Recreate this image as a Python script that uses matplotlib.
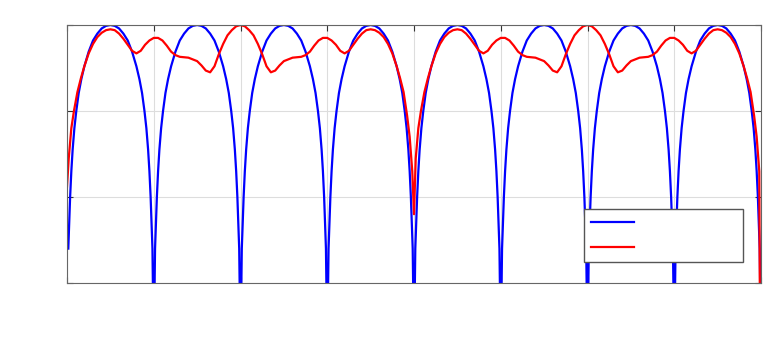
import numpy as np
import matplotlib
matplotlib.use("Agg")
from matplotlib import pyplot as plt

# blue curve: one arch (offset inside arch, dB)
arch_t = [0.0, 0.004, 0.01, 0.015, 0.025, 0.036, 0.05, 0.065, 0.085, 0.107, 0.135, 0.165,
          0.2, 0.25, 0.3, 0.35, 0.4, 0.45, 0.5,
          0.55, 0.6, 0.65, 0.7, 0.75, 0.8, 0.835, 0.865, 0.893, 0.915, 0.935, 0.95,
          0.964, 0.975, 0.985, 0.99, 0.996]
arch_db = [-60, -38, -30, -26, -23, -20, -17, -14.5, -12, -10, -7.9, -6.3,
           -4.8, -3.1, -1.8, -1.0, -0.4, -0.1, 0.0,
           -0.1, -0.4, -1.0, -1.8, -3.1, -4.8, -6.3, -7.9, -10, -12, -14.5, -17,
           -20, -23, -26, -30, -38]
n_arch = 8

# red curve, one period (x in arch units, dB)
red_x = [0.0, 0.02, 0.05, 0.08, 0.12, 0.16, 0.2, 0.25, 0.3, 0.35, 0.4, 0.45, 0.5,
         0.55, 0.6, 0.65, 0.7, 0.75, 0.8, 0.85, 0.9, 0.95, 1.0, 1.05, 1.1, 1.15,
         1.2, 1.25, 1.3, 1.4, 1.5, 1.55, 1.6, 1.65, 1.7, 1.75, 1.8, 1.85, 1.9,
         1.95, 2.0,
         2.05, 2.1, 2.15, 2.2, 2.25, 2.3, 2.35, 2.4, 2.45, 2.5, 2.6, 2.7, 2.75,
         2.8, 2.85, 2.9, 2.95, 3.0, 3.05, 3.1, 3.15, 3.2, 3.25, 3.3, 3.35, 3.4,
         3.45, 3.5, 3.55, 3.6, 3.65, 3.7, 3.75, 3.8, 3.84, 3.88, 3.92, 3.95,
         3.98]
red_db = [-18.8, -15.5, -12, -10, -7.8, -6.2, -4.8, -3.3, -2.2, -1.4, -0.9, -0.6,
          -0.5, -0.6, -1.0, -1.6, -2.3, -3.0, -3.3, -3.0, -2.3, -1.8, -1.5, -1.5,
          -1.8, -2.4, -3.1, -3.5, -3.7, -3.8, -4.2, -4.7, -5.3, -5.5, -4.8, -3.4,
          -2.2, -1.2, -0.6, -0.15, 0.0,
          -0.15, -0.6, -1.2, -2.2, -3.4, -4.8, -5.5, -5.3, -4.7, -4.2, -3.8, -3.7,
          -3.5, -3.1, -2.4, -1.8, -1.5, -1.5, -1.8, -2.3, -3.0, -3.3, -3.0, -2.3,
          -1.6, -1.0, -0.6, -0.5, -0.6, -0.9, -1.4, -2.2, -3.3, -4.8, -6.2,
          -7.8, -10.5, -13, -17]
red_mid = -22    # value at the null in the middle
red_end = -60    # value at the right edge

x_ticks = np.arange(0, 9)
y_ticks = [-30, -20, -10, 0]

# build series
blue_x = np.concatenate([k + np.array(arch_t) for k in range(n_arch)] + [[n_arch]])
blue_y = np.concatenate([arch_db for k in range(n_arch)] + [[-60]])
blue_x, blue_y = blue_x[3:], blue_y[3:]

rx = np.array(red_x)
ry = np.array(red_db)
red_xx = np.concatenate([rx, [4.0], rx[1:] + 4, [8.0]])
red_yy = np.concatenate([ry, [red_mid], ry[1:], [red_end]])

fig = plt.figure(figsize=(7.68, 3.51), dpi=100)
ax = fig.add_axes([67/768, 68/351, 694/768, 258/351])

ax.plot(blue_x, blue_y, color='#0000ff', lw=1.6, label=' ' * 30)
ax.plot(red_xx, red_yy, color='#ff0000', lw=1.6, label=' ' * 30)

ax.set_xlim(0, 8)
ax.set_ylim(-30, 0)
ax.set_xticks(x_ticks)
ax.set_yticks(y_ticks)
ax.set_xticklabels([])
ax.set_yticklabels([])
ax.tick_params(direction='in', top=True, right=True, length=4, color='#333333')
ax.grid(True, color='#dddddd', lw=0.8)
for s in ax.spines.values():
    s.set_color('#666666')

leg = ax.legend(loc='lower left', bbox_to_anchor=(0.745, 0.081, 0.229, 0.206),
                mode='expand', fancybox=False, framealpha=1, edgecolor='#555555',
                handlelength=3.1, labelspacing=0.8, borderpad=0.5, borderaxespad=0)
leg.get_frame().set_linewidth(1.0)

fig.savefig('out.png', dpi=100)
